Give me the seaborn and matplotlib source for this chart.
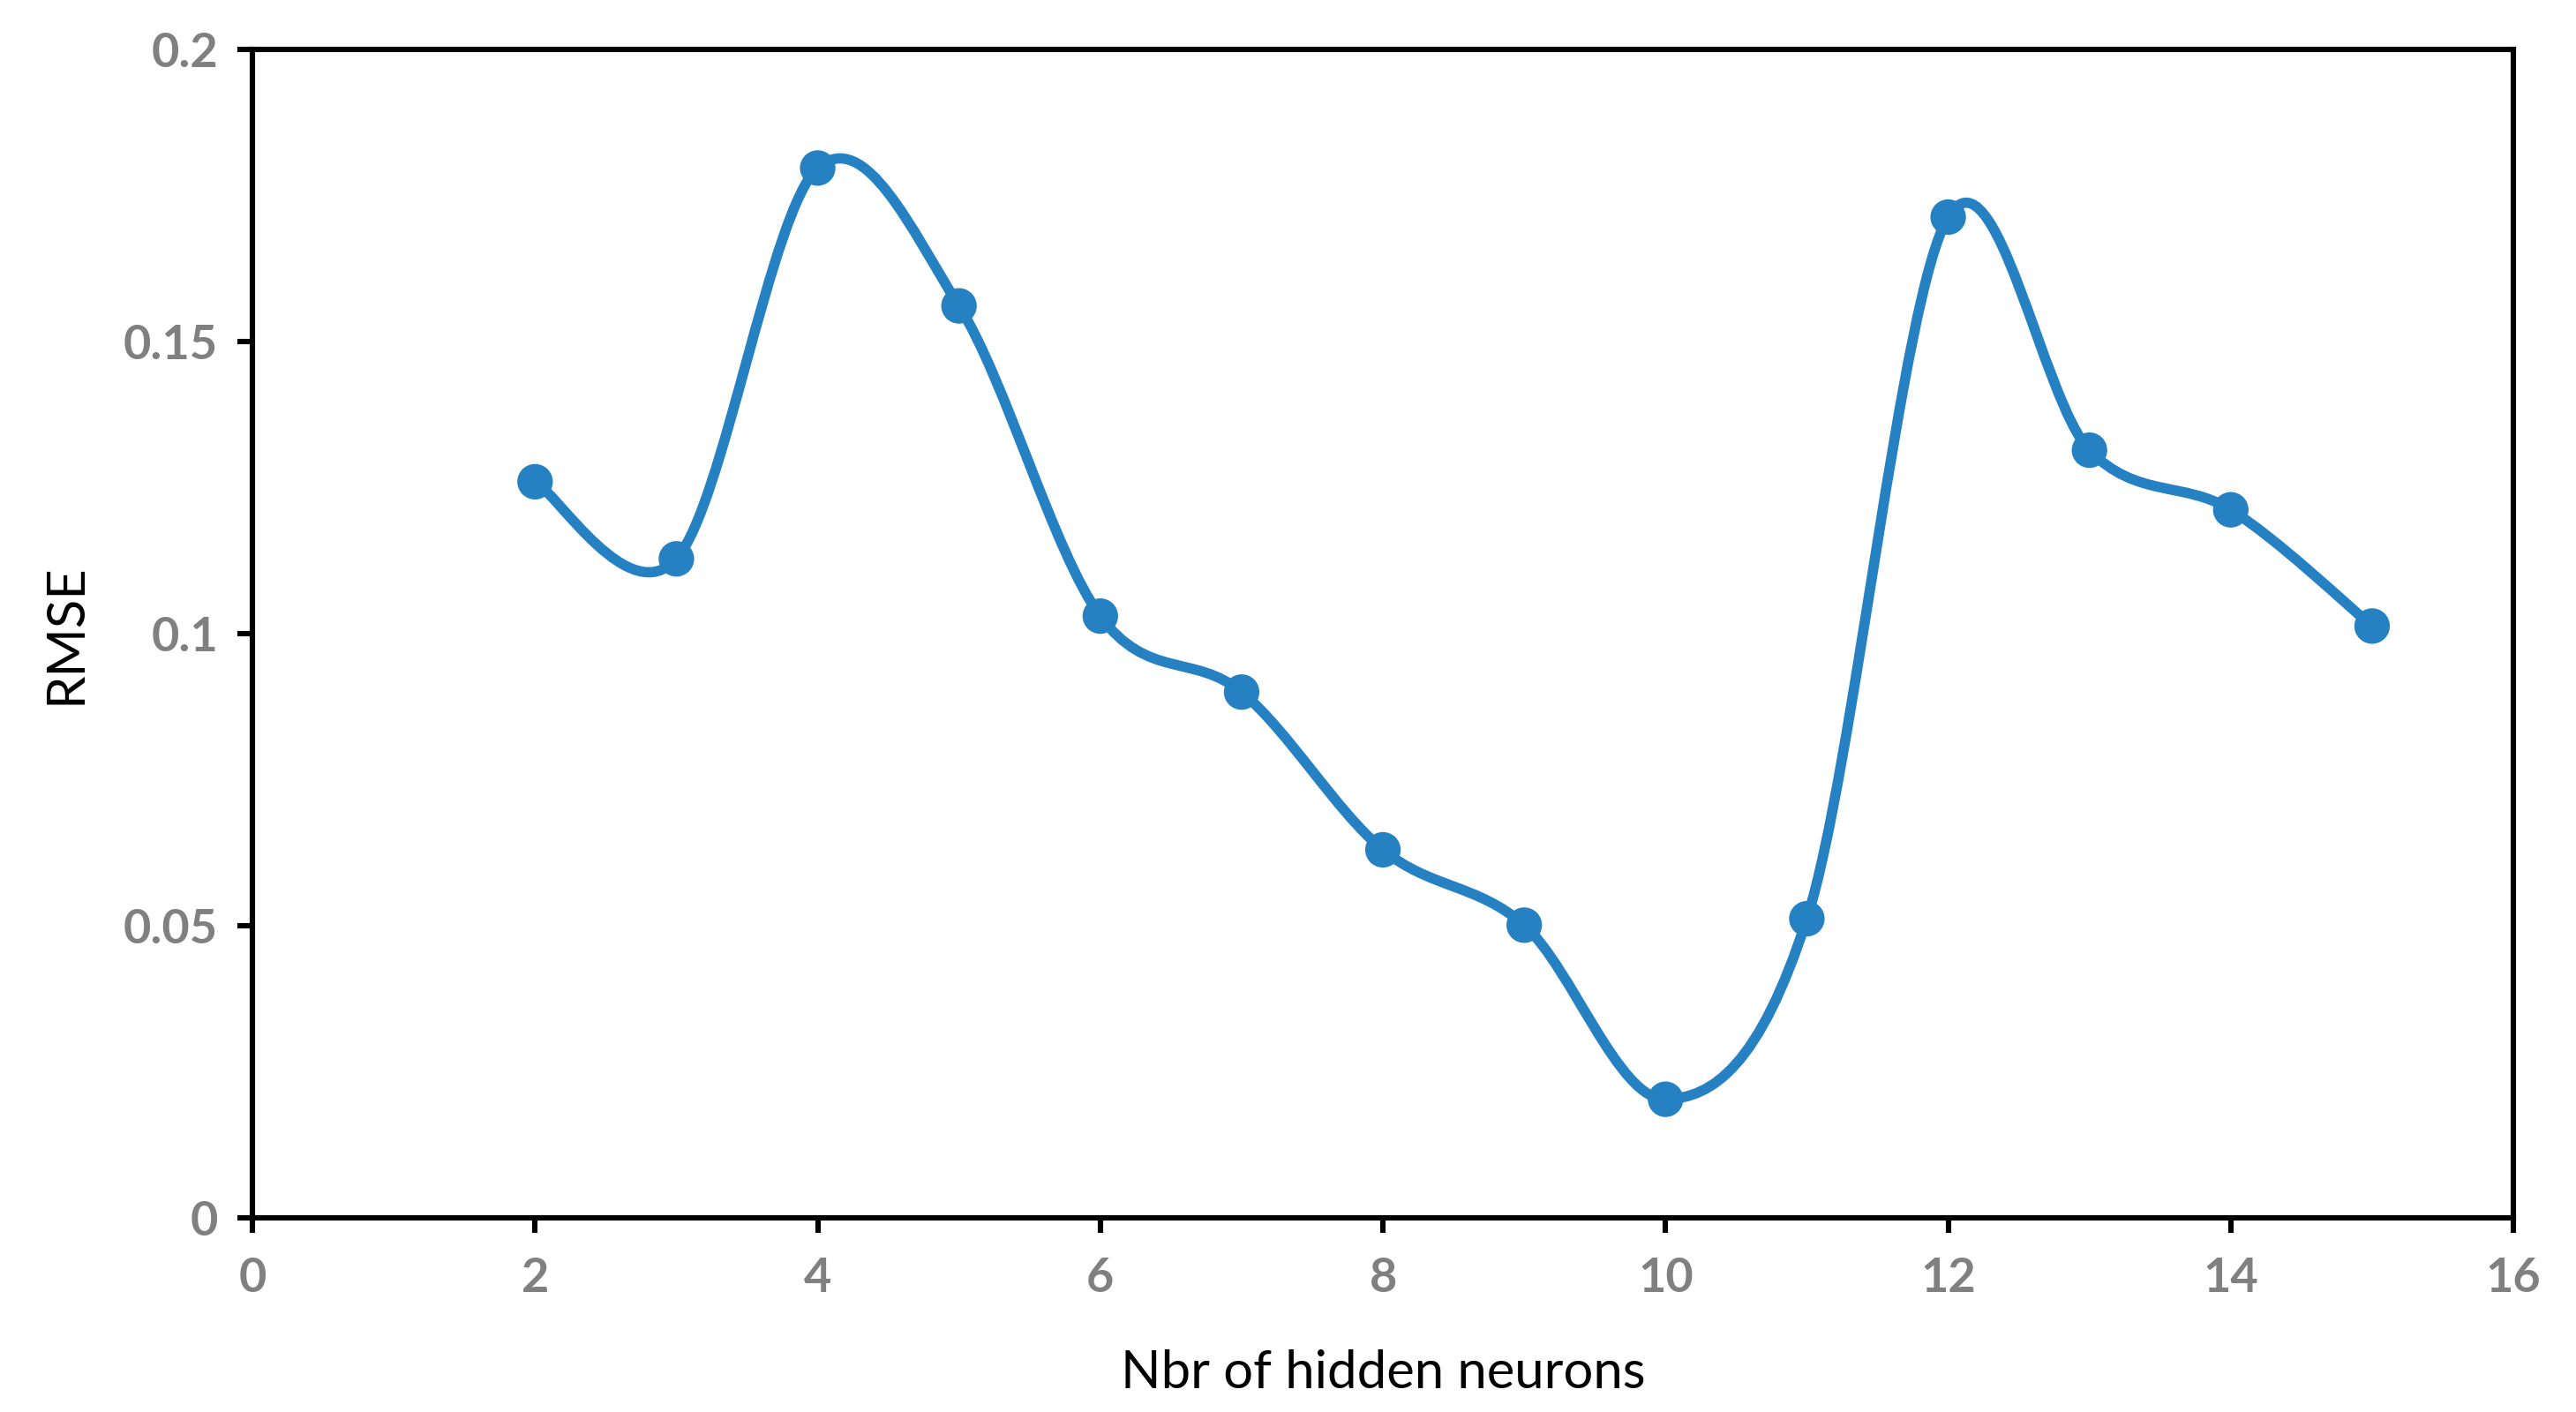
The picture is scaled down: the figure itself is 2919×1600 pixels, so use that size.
import numpy as np
import pandas as pd
import matplotlib
matplotlib.use("Agg")
import matplotlib.pyplot as plt
from matplotlib.path import Path
from matplotlib.patches import PathPatch
import seaborn as sns

# ── Data ──────────────────────────────────────────────────────────────────────
neurons = [2, 3, 4, 5, 6, 7, 8, 9, 10, 11, 12, 13, 14, 15]
rmse = [0.1260, 0.1128, 0.1797, 0.1561, 0.1030, 0.0900, 0.0630,
        0.0501, 0.0203, 0.0512, 0.1713, 0.1314, 0.1212, 0.1013]

x_ticks = [0, 2, 4, 6, 8, 10, 12, 14, 16]
y_ticks = [0, 0.05, 0.1, 0.15, 0.2]
y_tick_labels = ["0", "0.05", "0.1", "0.15", "0.2"]

COLOUR = "#2681C2"
TICK_GREY = "#808080"

sns.set_theme(style="white")
plt.rcParams["font.family"] = ["Lato", "DejaVu Sans"]

df = pd.DataFrame({"neurons": neurons, "rmse": rmse})

fig = plt.figure(figsize=(14.595, 8.0), dpi=200)
ax = fig.add_axes([0.098, 0.1375, 0.8777, 0.8275])


# ── Excel-style smoothed line (Catmull-Rom as cubic Bezier) ─────────────────
def smooth_path(xs, ys):
    pts = np.column_stack([xs, ys]).astype(float)
    n = len(pts)
    verts = [pts[0]]
    codes = [Path.MOVETO]
    for i in range(n - 1):
        p0 = pts[i - 1] if i > 0 else pts[i]
        p1 = pts[i]
        p2 = pts[i + 1]
        p3 = pts[i + 2] if i + 2 < n else pts[i + 1]
        c1 = p1 + (p2 - p0) / 6.0
        c2 = p2 - (p3 - p1) / 6.0
        verts += [c1, c2, p2]
        codes += [Path.CURVE4] * 3
    return Path(verts, codes)


ax.add_patch(PathPatch(smooth_path(df["neurons"], df["rmse"]),
                       facecolor="none", edgecolor=COLOUR, lw=4.2,
                       capstyle="round", joinstyle="round", zorder=2))

sns.scatterplot(data=df, x="neurons", y="rmse", ax=ax, color=COLOUR,
                s=210, edgecolor="none", zorder=3, legend=False)

# ── Axes styling ─────────────────────────────────────────────────────────────
ax.set_xlim(0, 16)
ax.set_ylim(0, 0.2)
ax.set_xticks(x_ticks)
ax.set_yticks(y_ticks)
ax.set_yticklabels(y_tick_labels)

for side in ["left", "right", "top", "bottom"]:
    ax.spines[side].set_visible(True)
    ax.spines[side].set_color("black")
    ax.spines[side].set_linewidth(2.2)

ax.tick_params(axis="both", direction="out", length=6, width=2.2,
               color="black", labelcolor=TICK_GREY, labelsize=19.5,
               bottom=True, left=True, top=False, right=False)
ax.tick_params(axis="x", pad=10)
ax.tick_params(axis="y", pad=8)
for lbl in ax.get_xticklabels() + ax.get_yticklabels():
    lbl.set_fontweight("bold")

ax.set_xlabel("Nbr of hidden neurons", fontsize=21.5, color="black", labelpad=20)
ax.set_ylabel("RMSE", fontsize=21.5, color="black", labelpad=14)
ax.grid(False)

fig.savefig("out.png", dpi=200)
